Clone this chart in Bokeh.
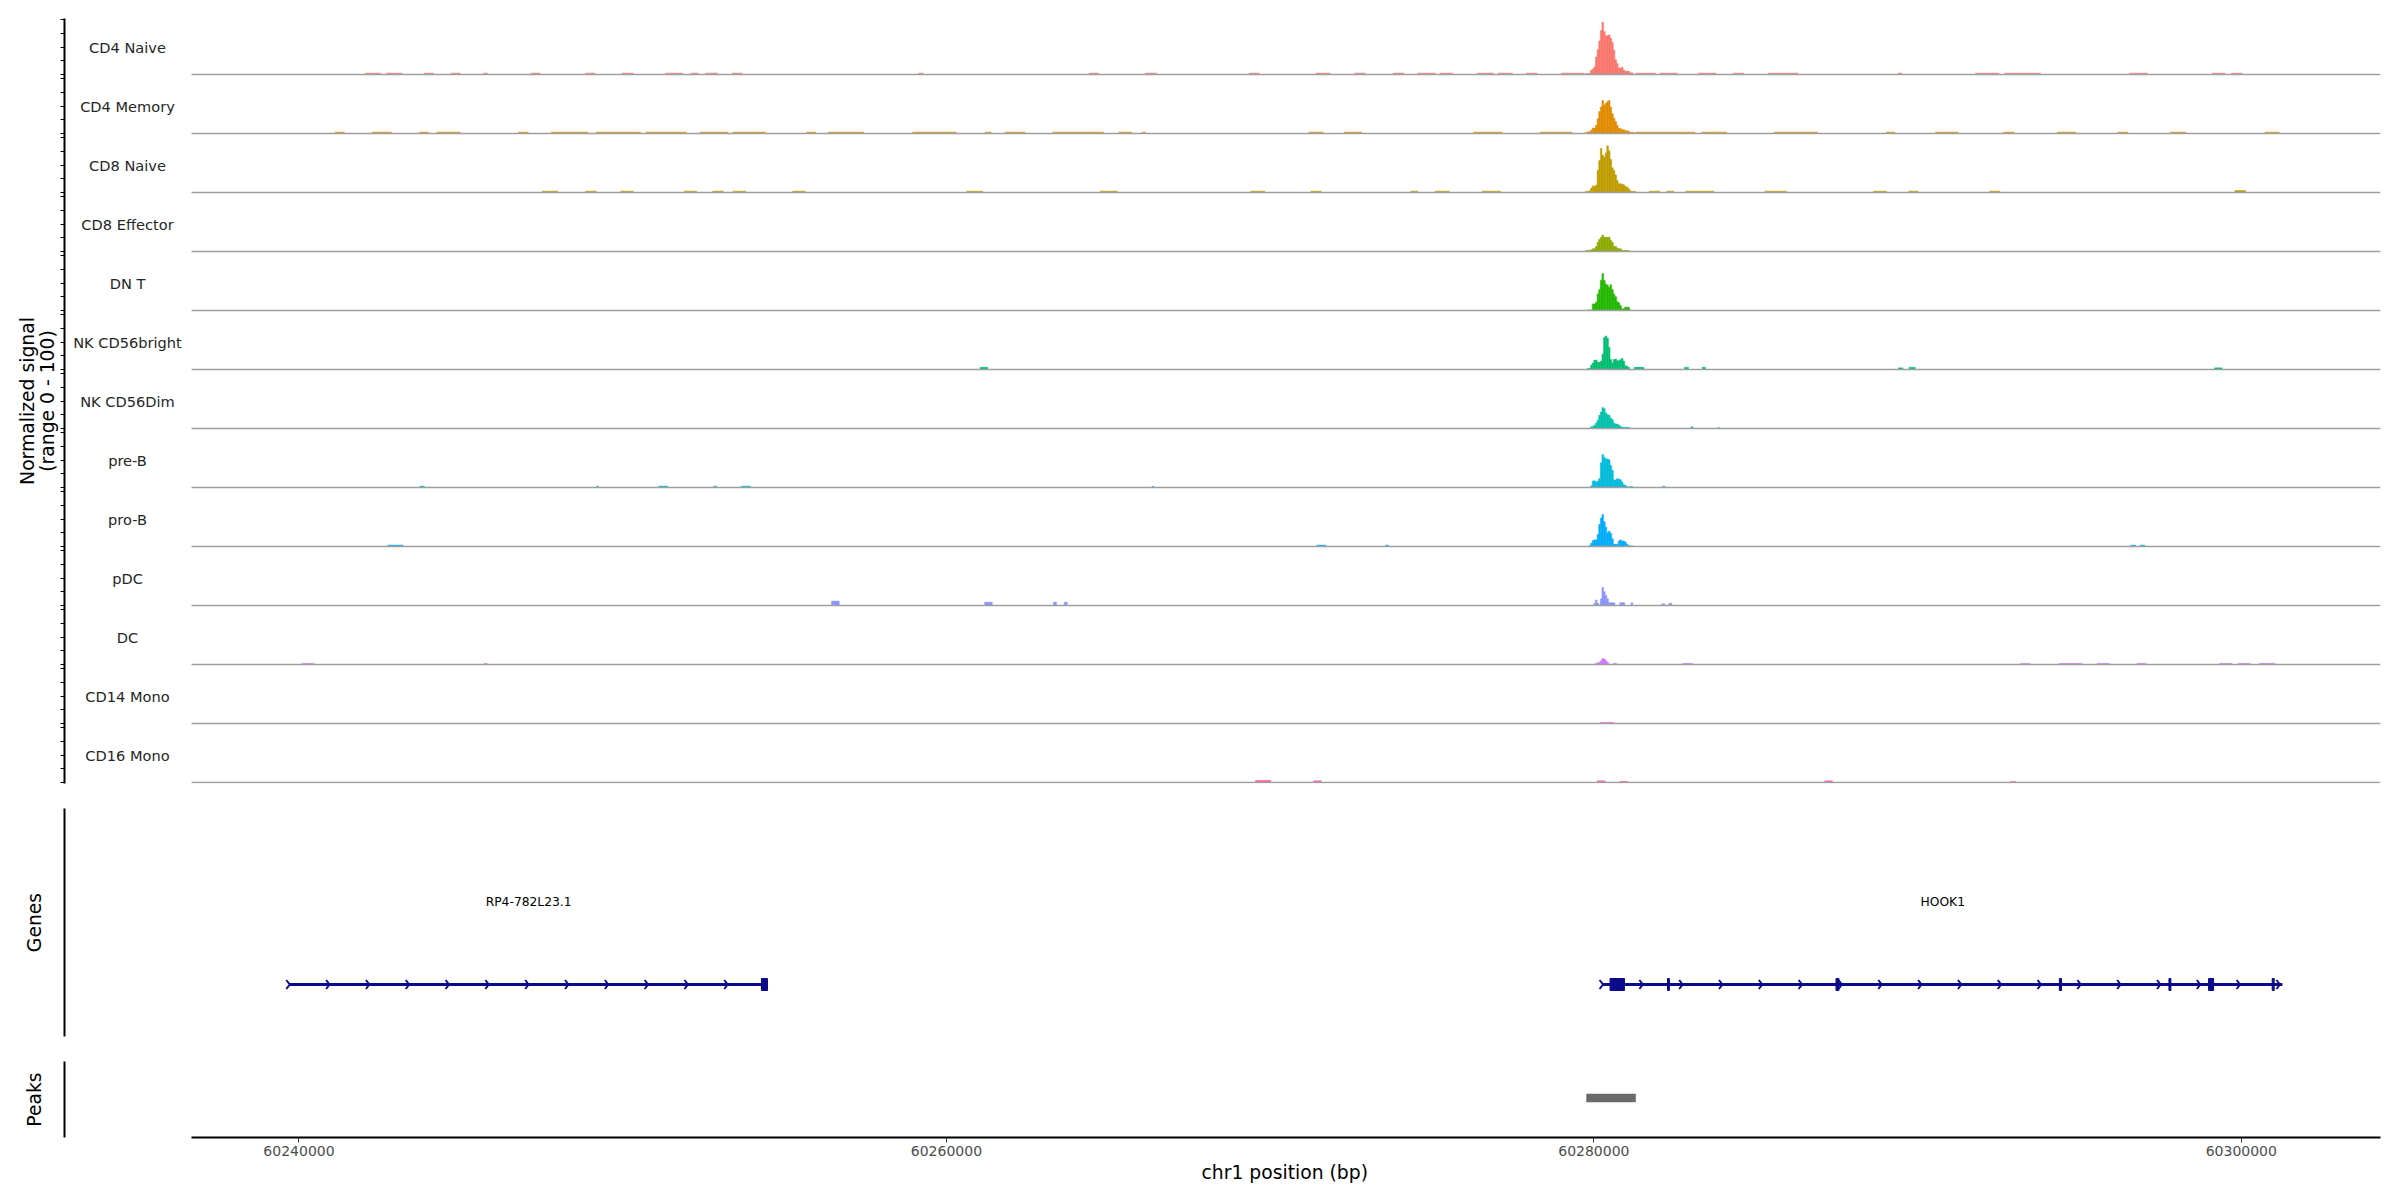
import math
from bokeh.plotting import figure
from bokeh.models import Range1d, FixedTicker, BasicTickFormatter, Title, ColumnDataSource
from bokeh.layouts import column
from bokeh.embed import file_html
from bokeh.resources import INLINE
from bokeh.core.properties import value

# ---------------- data ----------------
region_start = 60236680
region_end = 60304300
x_ticks = [60240000, 60260000, 60280000, 60300000]

track_names = ["CD4 Naive", "CD4 Memory", "CD8 Naive", "CD8 Effector", "DN T",
               "NK CD56bright", "NK CD56Dim", "pre-B", "pro-B", "pDC", "DC",
               "CD14 Mono", "CD16 Mono"]
track_colors = ["#F8766D", "#E18A00", "#BE9C00", "#8CAB00", "#24B700", "#00BE70",
                "#00C1AB", "#00BBDA", "#00ACFC", "#8B93FF", "#D575FE", "#F962DD",
                "#FF65AC"]

# binned coverage around the HOOK1 promoter peak (50 bp bins from bin_start)
bin_start = 60279700
bin_width = 50
cov_cd4_naive = [1, 1.5, 2, 2, 8, 10, 14, 32, 45, 61, 80, 95, 78, 70, 71, 72, 66, 58, 44, 27,
                 20, 12, 12, 13, 8, 6, 6, 6, 3, 3, 1, 0, 0, 0, 0, 0, 0, 0]
cov_cd4_memory = [1, 2, 3, 3, 6, 10, 10, 15, 27, 40, 48, 60, 52, 55, 58, 60, 48, 36, 28, 22,
                  15, 9, 9, 7, 7, 5, 5, 4, 2, 2, 2, 1, 0, 0, 0, 0, 0, 0]
cov_cd8_naive = [1, 2, 2, 3, 8, 12, 11, 13, 40, 58, 80, 68, 64, 72, 85, 76, 60, 45, 40, 32,
                 22, 16, 16, 15, 14, 11, 10, 7, 3, 2, 2, 2, 0, 0, 0, 0, 0, 0]
cov_cd8_effector = [0, 2, 2, 2, 3, 5, 5, 9, 17, 22, 26, 30, 26, 26, 26, 26, 20, 17, 9, 9,
                    6, 5, 5, 2, 2, 2, 2, 2, 0, 0, 0, 0, 0, 0, 0, 0, 0, 0]
cov_dn_t = [0, 0, 1, 1, 1, 12, 12, 15, 30, 38, 55, 67, 55, 48, 46, 42, 47, 38, 30, 25,
            16, 14, 9, 3, 3, 6, 6, 6, 1, 0, 0, 0, 0, 0, 0, 0, 0, 0]
cov_nk_bright = [0, 0, 2, 2, 8, 12, 17, 17, 13, 13, 15, 28, 58, 61, 57, 40, 18, 12, 18, 19,
                 16, 16, 18, 20, 15, 7, 6, 4, 0, 0, 0, 4, 4, 4, 4, 4, 4, 0]
cov_nk_dim = [0, 0, 0, 0, 3, 4, 6, 10, 15, 24, 30, 38, 36, 28, 25, 24, 19, 16, 10, 8,
              8, 6, 4, 2, 2, 2, 2, 2, 0, 0, 0, 0, 0, 0, 0, 0, 0, 0]
cov_pre_b = [0, 0, 0, 0, 3, 12, 12, 10, 12, 16, 45, 60, 55, 52, 52, 50, 40, 31, 14, 13,
             16, 15, 14, 10, 5, 4, 2, 0, 2, 2, 0, 0, 0, 0, 0, 0, 0, 0]
cov_pro_b = [0, 0, 0, 2, 6, 11, 12, 12, 22, 40, 52, 58, 45, 35, 25, 28, 24, 14, 4, 4,
             4, 10, 12, 10, 10, 8, 4, 2, 1, 1, 1, 0, 0, 0, 0, 0, 0, 0]
cov_pdc = [0, 0, 0, 0, 0, 0, 4, 10, 4, 0, 12, 33, 25, 18, 12, 5, 5, 5, 5, 0,
           0, 0, 5, 5, 5, 0, 0, 0, 0, 5, 0, 0, 0, 0, 0, 0, 0, 0]
cov_dc = [0, 0, 0, 0, 0, 0, 0, 2, 3, 4, 7, 11, 10, 7, 4, 0, 0, 0, 2, 2,
          0, 0, 0, 0, 0, 0, 0, 0, 0, 0, 0, 0, 0, 0, 0, 0, 0, 0]
cov_cd14_mono = [0, 0, 0, 0, 0, 0, 0, 0, 0, 0, 2, 2, 2, 2, 2, 2, 2, 2, 0, 0,
                 0, 0, 0, 0, 0, 0, 0, 0, 0, 0, 0, 0, 0, 0, 0, 0, 0, 0]
cov_cd16_mono = [0, 0, 0, 0, 0, 0, 0, 0, 3, 3, 3, 3, 3, 0, 0, 0, 0, 0, 0, 0,
                 0, 0, 2, 2, 2, 2, 2, 0, 0, 0, 0, 0, 0, 0, 0, 0, 0, 0]

# sparse low-level signal elsewhere in the region: (start, end, value)
bits_cd4_naive = [(60242053, 60242530, 2.5), (60242703, 60243180, 2.5), (60243873, 60244155, 2.5),
                  (60244697, 60244979, 2.5), (60245694, 60245824, 2.5), (60247167, 60247449, 2.5),
                  (60248857, 60249139, 2.5), (60249984, 60250331, 2.5), (60251328, 60251848, 2.5),
                  (60252108, 60252325, 2.5), (60252563, 60252932, 2.5), (60253387, 60253690, 2.5),
                  (60259151, 60259281, 2.5), (60264417, 60264699, 2.5), (60266150, 60266497, 2.5),
                  (60269357, 60269660, 2.5), (60271417, 60271851, 2.5), (60272609, 60272934, 2.5),
                  (60273801, 60274126, 2.5), (60274560, 60275100, 2.5), (60275250, 60275643, 2.5),
                  (60276402, 60276900, 2.5), (60277050, 60277485, 2.5), (60277918, 60278244, 2.5),
                  (60279002, 60279700, 2.5), (60281300, 60281900, 2.5), (60282050, 60282577, 2.5),
                  (60283228, 60283769, 2.5), (60284311, 60284636, 2.5), (60285395, 60286305, 2.5),
                  (60289403, 60289512, 2.5), (60291787, 60292500, 2.5), (60292700, 60293802, 2.5),
                  (60296554, 60297096, 2.5), (60299111, 60299500, 2.5), (60299700, 60300021, 2.5)]
bits_cd4_memory = [(60241121, 60241403, 2.5), (60242270, 60242855, 2.5), (60243722, 60244003, 2.5),
                   (60244263, 60244979, 2.5), (60246777, 60247080, 2.5), (60247795, 60248922, 2.5),
                   (60249183, 60250548, 2.5), (60250721, 60251956, 2.5), (60252390, 60253257, 2.5),
                   (60253408, 60254405, 2.5), (60255684, 60255966, 2.5), (60256355, 60257439, 2.5),
                   (60258956, 60260299, 2.5), (60261209, 60261383, 2.5), (60261816, 60262423, 2.5),
                   (60263290, 60264850, 2.5), (60265327, 60265717, 2.5), (60266042, 60266150, 2.5),
                   (60271201, 60271634, 2.5), (60272284, 60272826, 2.5), (60276293, 60277160, 2.5),
                   (60278352, 60279327, 2.5), (60281300, 60283119, 2.5), (60283336, 60284094, 2.5),
                   (60285568, 60286912, 2.5), (60289035, 60289295, 2.5), (60290552, 60291246, 2.5),
                   (60292654, 60292979, 2.5), (60294323, 60294886, 2.5), (60296186, 60296489, 2.5),
                   (60297811, 60298288, 2.5), (60300737, 60301170, 2.5)]
bits_cd8_naive = [(60247514, 60247991, 2.5), (60248857, 60249183, 2.5), (60249941, 60250331, 2.5),
                  (60251913, 60252281, 2.5), (60252780, 60253105, 2.5), (60253408, 60253798, 2.5),
                  (60255250, 60255641, 2.5), (60260624, 60261122, 2.5), (60264763, 60265283, 2.5),
                  (60269400, 60269834, 2.5), (60271266, 60271569, 2.5), (60274343, 60274560, 2.5),
                  (60275101, 60275535, 2.5), (60276553, 60277117, 2.5), (60281710, 60282036, 2.5),
                  (60282252, 60282469, 2.5), (60282837, 60283704, 2.5), (60285286, 60285958, 2.5),
                  (60288645, 60289035, 2.5), (60289729, 60290011, 2.5), (60292221, 60292546, 2.5),
                  (60299805, 60300130, 3.5)]
bits_cd8_effector = []
bits_dn_t = []
bits_nk_bright = [(60261038, 60261277, 4), (60282802, 60282926, 4), (60283347, 60283450, 4),
                  (60289407, 60289549, 3), (60289738, 60289926, 4), (60299173, 60299409, 3)]
bits_nk_dim = [(60283000, 60283070, 3), (60283830, 60283870, 2)]
bits_pre_b = [(60243734, 60243876, 2.5), (60249190, 60249250, 2.5), (60251109, 60251393, 2.5),
              (60252811, 60252906, 2.5), (60253662, 60253946, 2.5), (60266350, 60266410, 2),
              (60282130, 60282193, 2.5)]
bits_pro_b = [(60242741, 60243214, 2.5), (60271440, 60271723, 2.5), (60273567, 60273662, 2.5),
              (60296592, 60296734, 2.5), (60296876, 60297017, 2.5)]
bits_pdc = [(60256452, 60256688, 8), (60261180, 60261416, 6), (60263307, 60263402, 6),
            (60263638, 60263733, 6), (60282099, 60282192, 3), (60282315, 60282410, 4)]
bits_dc = [(60240093, 60240471, 2), (60245720, 60245814, 2), (60282740, 60283045, 2),
           (60293186, 60293470, 2), (60294368, 60295077, 2), (60295550, 60295928, 2),
           (60296780, 60297064, 2), (60299333, 60299711, 2), (60299900, 60300278, 2),
           (60300562, 60301035, 2)]
bits_cd14_mono = []
bits_cd16_mono = [(60269549, 60270022, 4), (60271346, 60271582, 3), (60287134, 60287370, 3),
                  (60292854, 60293043, 2)]

coverage = [cov_cd4_naive, cov_cd4_memory, cov_cd8_naive, cov_cd8_effector, cov_dn_t,
            cov_nk_bright, cov_nk_dim, cov_pre_b, cov_pro_b, cov_pdc, cov_dc,
            cov_cd14_mono, cov_cd16_mono]
bits = [bits_cd4_naive, bits_cd4_memory, bits_cd8_naive, bits_cd8_effector, bits_dn_t,
        bits_nk_bright, bits_nk_dim, bits_pre_b, bits_pro_b, bits_pdc, bits_dc,
        bits_cd14_mono, bits_cd16_mono]

gene_names = ["RP4-782L23.1", "HOOK1"]
gene_starts = [60239716, 60280284]
gene_ends = [60254472, 60301270]
exon_starts = [60254287, 60280500, 60282275, 60287480, 60294380, 60297765, 60298990, 60300955]
exon_ends = [60254472, 60280945, 60282335, 60287570, 60294445, 60297825, 60299145, 60301015]

peak_starts = [60279775]
peak_ends = [60281288]

# ---------------- layout ----------------
BL, BR = 64, 8
W = 2380 + BR
GUTTER = 127
frame_w = W - BL - BR
px_per_bp = (frame_w - GUTTER) / (region_end - region_start)
x_start = region_start - GUTTER / px_per_bp
xr = Range1d(x_start, region_end)

FONT = "DejaVu Sans"
LABEL_SIZE = "18.75px"
TRACK_STEP = 59.0
TRACK_H = 55.0
N = len(track_names)


def base_fig(height, top, bottom, yr, xloc):
    p = figure(width=W, height=height, x_range=xr, y_range=yr,
               output_backend="svg", toolbar_location=None,
               min_border_left=BL, min_border_right=BR,
               min_border_top=top, min_border_bottom=bottom,
               x_axis_location=xloc, y_axis_location="left")
    p.outline_line_color = None
    p.grid.grid_line_color = None
    p.background_fill_color = "white"
    p.border_fill_color = "white"
    ax = p.yaxis[0]
    ax.axis_line_width = 2
    ax.axis_line_color = "black"
    ax.major_label_text_color = None
    ax.major_label_standoff = 0
    ax.minor_tick_line_color = None
    ax.axis_label_text_font = FONT
    ax.axis_label_text_font_size = LABEL_SIZE
    ax.axis_label_text_font_style = "normal"
    ax.axis_label_text_color = "black"
    return p


# ---- coverage tracks ----
f1_frame = 765
p1 = base_fig(18 + f1_frame + 12, 18, 12,
              Range1d(-(N - 1) * TRACK_STEP - 1, -(N - 1) * TRACK_STEP - 1 + f1_frame), None)

ticks = []
for i in range(N):
    b = -i * TRACK_STEP
    ticks += [b + j * TRACK_H / 4 for j in range(5)]
p1.yaxis.ticker = FixedTicker(ticks=ticks)
p1.yaxis.major_tick_out = 4
p1.yaxis.major_tick_in = 0
p1.yaxis.major_tick_line_width = 1
p1.yaxis.major_tick_line_color = "black"
p1.yaxis.axis_label = "Normalized signal\n(range 0 - 100)"
p1.yaxis.axis_label_standoff = 3
p1.yaxis.axis_label_text_line_height = 0.92

L, R, B, T, C = [], [], [], [], []
for i in range(N):
    base = -i * TRACK_STEP
    for k, v in enumerate(coverage[i]):
        if v > 0:
            L.append(bin_start + k * bin_width)
            R.append(bin_start + (k + 1) * bin_width)
            B.append(base)
            T.append(base + v * TRACK_H / 100.0)
            C.append(track_colors[i])
    for (s, e, v) in bits[i]:
        L.append(s); R.append(e); B.append(base)
        T.append(base + v * TRACK_H / 100.0)
        C.append(track_colors[i])
src = ColumnDataSource(dict(left=L, right=R, bottom=B, top=T, color=C))
p1.quad(left="left", right="right", bottom="bottom", top="top", source=src,
        fill_color="color", line_color="color", line_width=0.5)

bases = [-i * TRACK_STEP for i in range(N)]
p1.segment(x0=[region_start] * N, x1=[region_end] * N, y0=bases, y1=bases,
           line_color="#9e9e9e", line_width=1.5)

lab_x = x_start + 63 / px_per_bp
p1.text(x=[lab_x] * N, y=[b + 27 for b in bases], text=track_names,
        text_font=value(FONT), text_font_size="14.6px", text_color="#262626",
        text_align="center", text_baseline="middle")

# ---- genes ----
f2_frame = 228
p2 = base_fig(13 + f2_frame + 12, 13, 12, Range1d(0, f2_frame), None)
p2.yaxis.ticker = FixedTicker(ticks=[])
p2.yaxis.major_tick_out = 0
p2.yaxis.axis_label = "Genes"
p2.yaxis.axis_label_standoff = 20
GENE_Y = 52
NAVY = "#0a0a8a"
p2.segment(x0=gene_starts, x1=gene_ends, y0=[GENE_Y] * len(gene_starts),
           y1=[GENE_Y] * len(gene_starts), line_color=NAVY, line_width=3)
xs, ys = [], []
step_bp = 1230
dx = 3.5 / px_per_bp
for s, e in zip(gene_starts, gene_ends):
    pos = s
    while pos <= e:
        xs.append([pos - dx, pos, pos - dx])
        ys.append([GENE_Y + 4.5, GENE_Y, GENE_Y - 4.5])
        pos += step_bp
p2.multi_line(xs=xs, ys=ys, line_color=NAVY, line_width=2)
p2.quad(left=exon_starts, right=exon_ends, bottom=[GENE_Y - 6] * len(exon_starts),
        top=[GENE_Y + 6] * len(exon_starts), fill_color=NAVY, line_color=NAVY, line_width=1)
p2.text(x=[(s + e) / 2 for s, e in zip(gene_starts, gene_ends)], y=[134.5] * len(gene_names),
        text=gene_names, text_font=value(FONT), text_font_size="12.3px", text_color="black",
        text_align="center", text_baseline="middle")

# ---- peaks + x axis ----
f3_frame = 76
p3 = base_fig(13 + f3_frame + 55, 13, 55, Range1d(0, f3_frame), "below")
p3.yaxis.ticker = FixedTicker(ticks=[])
p3.yaxis.major_tick_out = 0
p3.yaxis.axis_label = "Peaks"
p3.yaxis.axis_label_standoff = 20
p3.quad(left=peak_starts, right=peak_ends, bottom=[35.5] * len(peak_starts),
        top=[43.5] * len(peak_starts), fill_color="#6b6b6b", line_color="#6b6b6b", line_width=0.5)
xa = p3.xaxis[0]
xa.ticker = FixedTicker(ticks=x_ticks)
xa.formatter = BasicTickFormatter(use_scientific=False)
xa.bounds = (region_start, region_end)
xa.axis_line_width = 2
xa.axis_line_color = "black"
xa.major_tick_out = 5
xa.major_tick_in = 0
xa.major_tick_line_color = "#333333"
xa.minor_tick_line_color = None
xa.major_label_standoff = 3
xa.major_label_text_font = FONT
xa.major_label_text_font_size = "14px"
xa.major_label_text_color = "#4d4d4d"
p3.add_layout(Title(text="chr1 position (bp)", align="left", offset=1137, standoff=2,
                    text_font=FONT, text_font_size=LABEL_SIZE, text_font_style="normal",
                    text_color="black"), "below")

layout = column(p1, p2, p3, spacing=0)
open("out.html", "w").write(file_html(layout, INLINE))
